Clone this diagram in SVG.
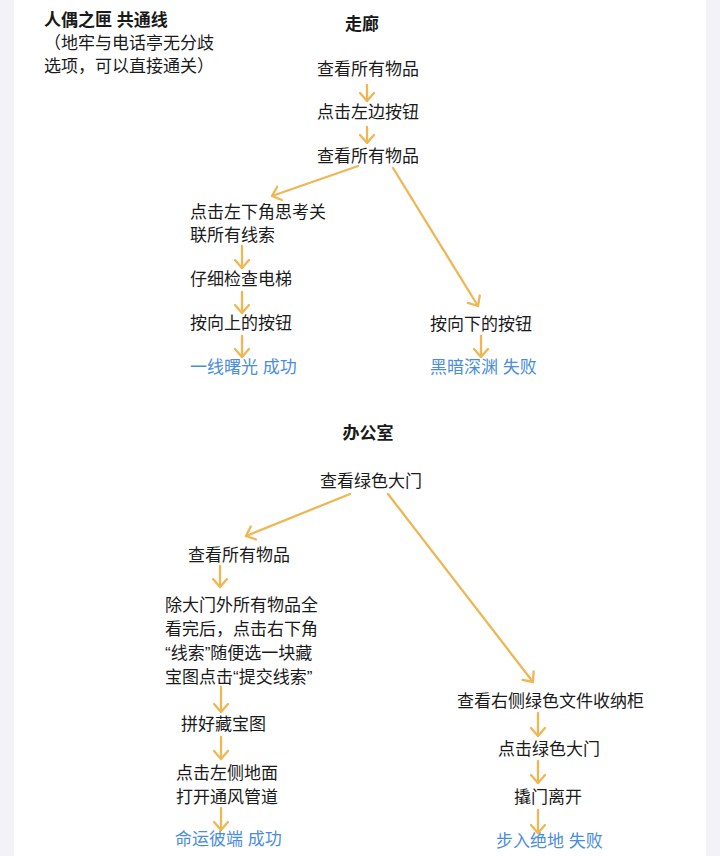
<svg xmlns="http://www.w3.org/2000/svg" width="720" height="856" viewBox="0 0 720 856">
<defs>
<style>
.t{font-family:"Liberation Sans","Noto Sans CJK SC",sans-serif;font-size:17px;fill:#1a1a1a}
.b{font-weight:bold}
.m{text-anchor:middle}
.blue{fill:#4a8ddc}
.c{stroke:#efb654;stroke-width:2.3;fill:none;stroke-linecap:round;marker-end:url(#ah)}
</style>
<marker id="ah" markerUnits="userSpaceOnUse" markerWidth="20" markerHeight="20" viewBox="-10 -10 20 20" refX="0" refY="0" orient="auto">
<path d="M-8,-7 L0,0 L-8,7" fill="none" stroke="#efb654" stroke-width="2.3" stroke-linecap="round" stroke-linejoin="round"/>
</marker>
</defs>
<rect x="0" y="0" width="720" height="856" fill="#ffffff"/>
<rect x="0" y="0" width="14" height="856" fill="#f2f2f7"/>
<rect x="706" y="0" width="14" height="856" fill="#f2f2f7"/>

<g id="title">
<text class="t b" x="44" y="26">人偶之匣 共通线</text>
<text class="t" x="44" y="49">（地牢与电话亭无分歧</text>
<text class="t" x="44" y="72">选项，可以直接通关）</text>
</g>

<g id="corridor">
<text class="t b m" x="362" y="30">走廊</text>
</g>
<g id="c1"><text class="t m" x="368" y="75">查看所有物品</text></g>
<g id="c2"><text class="t m" x="368" y="118">点击左边按钮</text></g>
<g id="c3"><text class="t m" x="368" y="162">查看所有物品</text></g>
<g id="c4"><text class="t" x="190" y="218">点击左下角思考关</text><text class="t" x="190" y="241">联所有线索</text></g>
<g id="c5"><text class="t" x="190" y="285">仔细检查电梯</text></g>
<g id="c6"><text class="t" x="190" y="329">按向上的按钮</text></g>
<g id="c7"><text class="t blue" x="190" y="373">一线曙光 成功</text></g>
<g id="c8"><text class="t" x="430" y="330">按向下的按钮</text></g>
<g id="c9"><text class="t blue" x="430" y="373">黑暗深渊 失败</text></g>

<g id="office">
<text class="t b m" x="368" y="439">办公室</text>
</g>
<g id="o1"><text class="t m" x="371" y="487">查看绿色大门</text></g>
<g id="o2"><text class="t" x="188" y="561">查看所有物品</text></g>
<g id="o3">
<text class="t" x="165" y="611">除大门外所有物品全</text>
<text class="t" x="165" y="635">看完后，点击右下角</text>
<text class="t" x="165" y="659">“线索”随便选一块藏</text>
<text class="t" x="165" y="683">宝图点击“提交线索”</text>
</g>
<g id="o4"><text class="t" x="181" y="730">拼好藏宝图</text></g>
<g id="o5"><text class="t" x="176" y="779">点击左侧地面</text><text class="t" x="176" y="803">打开通风管道</text></g>
<g id="o6"><text class="t blue" x="175" y="845">命运彼端 成功</text></g>
<g id="o7"><text class="t" x="457" y="707">查看右侧绿色文件收纳柜</text></g>
<g id="o8"><text class="t" x="498" y="755">点击绿色大门</text></g>
<g id="o9"><text class="t" x="514" y="803">撬门离开</text></g>
<g id="o10"><text class="t blue" x="496" y="847">步入绝地 失败</text></g>

<g id="connectors">
<line class="c" x1="367" y1="85" x2="367" y2="101"/>
<line class="c" x1="367" y1="127" x2="367" y2="143"/>
<line class="c" x1="358" y1="166" x2="272" y2="196"/>
<line class="c" x1="393" y1="168" x2="478" y2="306"/>
<line class="c" x1="242" y1="246" x2="242" y2="268"/>
<line class="c" x1="242" y1="292" x2="242" y2="313"/>
<line class="c" x1="242" y1="336" x2="242" y2="357"/>
<line class="c" x1="481" y1="336" x2="481" y2="357"/>
<line class="c" x1="350" y1="494" x2="246" y2="536"/>
<line class="c" x1="388" y1="494" x2="533" y2="682"/>
<line class="c" x1="220" y1="566" x2="220" y2="587"/>
<line class="c" x1="221" y1="687" x2="221" y2="712"/>
<line class="c" x1="221" y1="737" x2="221" y2="759"/>
<line class="c" x1="221" y1="808" x2="221" y2="830"/>
<line class="c" x1="538" y1="713" x2="538" y2="736"/>
<line class="c" x1="538" y1="761" x2="538" y2="783"/>
<line class="c" x1="538" y1="810" x2="538" y2="833"/>
</g>
</svg>
